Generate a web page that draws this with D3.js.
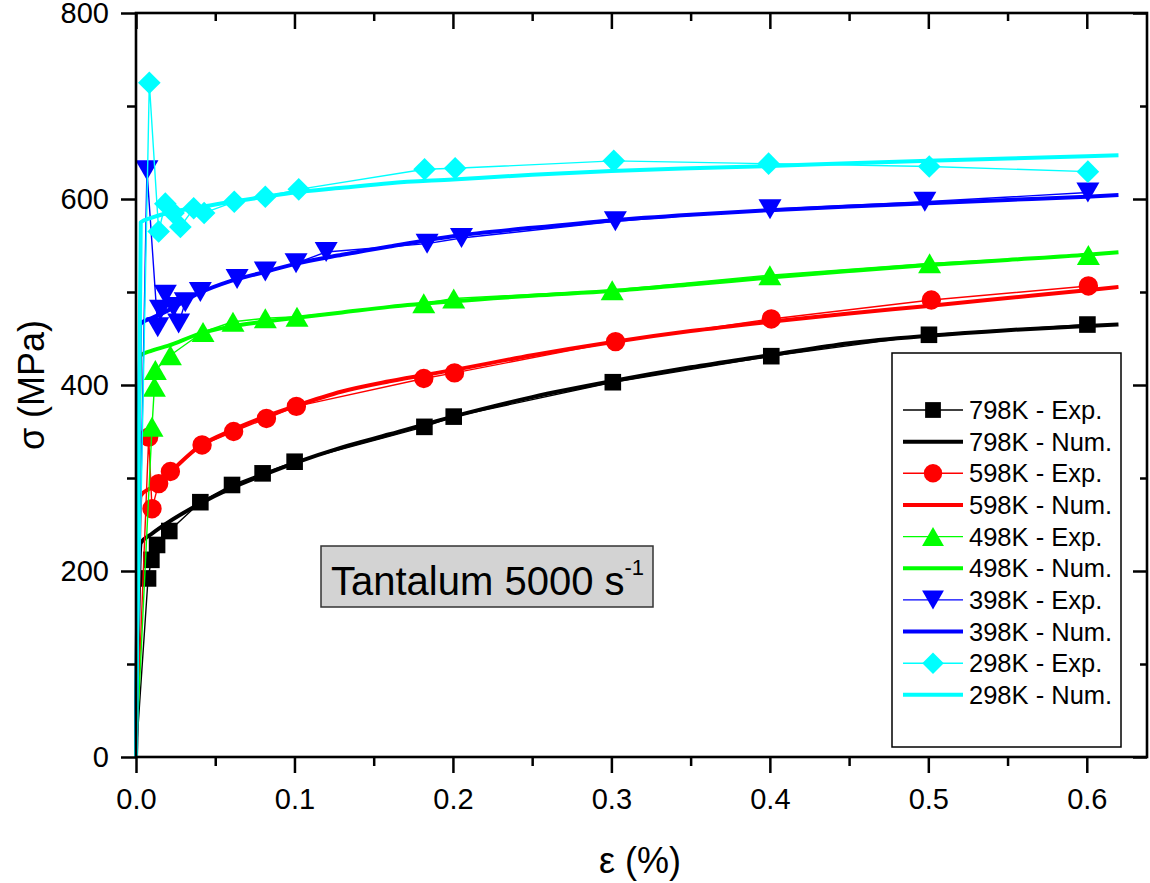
<!DOCTYPE html>
<html><head><meta charset="utf-8">
<script src="https://cdn.jsdelivr.net/npm/d3@7"></script>
<style>
body{margin:0;background:#fff;}
svg{display:block;font-family:"Liberation Sans",Arial,Helvetica,sans-serif;}
</style>
</head><body>
<svg id="chart" width="1150" height="883"></svg>
<script>
// ---------- data ----------
const seriesNames = ["798K", "598K", "498K", "398K", "298K"];
const seriesColors = ["#000000", "#ff0000", "#00ff00", "#0000ff", "#00ffff"];
const seriesShapes = ["square", "circle", "triangleUp", "triangleDown", "diamond"];

// Experimental data (strain %, stress MPa)
const exp798Strain = [0, 0.0076, 0.0097, 0.0133, 0.021, 0.0406, 0.0606, 0.0799, 0.1001, 0.182, 0.2005, 0.3009, 0.4009, 0.5004, 0.6004];
const exp798Stress = [0, 192, 212, 228, 243, 274, 292.5, 305, 317.5, 355, 366, 403, 431, 454, 465];

const exp598Strain = [0, 0.008, 0.0101, 0.0143, 0.0217, 0.0417, 0.0616, 0.0823, 0.1012, 0.1816, 0.201, 0.3026, 0.4009, 0.5019, 0.601];
const exp598Stress = [0, 344, 267, 294, 307, 335.5, 350, 364, 377, 407, 413, 446.6, 471, 491.4, 506.5];

const exp498Strain = [0, 0.0101, 0.0116, 0.0122, 0.0217, 0.0423, 0.0612, 0.0816, 0.1016, 0.1816, 0.2005, 0.3005, 0.4, 0.5008, 0.601];
const exp498Stress = [0, 355, 398, 416, 432, 457, 468, 471.7, 473.5, 487.8, 493, 502, 518, 530.8, 539.8];

const exp398Strain = [0, 0.0069, 0.0137, 0.0155, 0.0185, 0.0237, 0.0269, 0.0311, 0.0406, 0.0638, 0.0816, 0.101, 0.12, 0.1837, 0.2054, 0.3025, 0.4001, 0.4978, 0.6007];
const exp398Stress = [0, 631, 462, 481, 497, 484, 466, 489, 500, 514, 522, 531, 543, 552, 558, 576, 589, 597, 607];

const exp298Strain = [0, 0.0084, 0.0143, 0.0185, 0.0237, 0.028, 0.0364, 0.043, 0.062, 0.0816, 0.1027, 0.1821, 0.2014, 0.3015, 0.3992, 0.5006, 0.6007];
const exp298Stress = [0, 725, 565, 595, 585, 570, 590, 585, 597, 602.5, 610.4, 632, 633, 641, 638, 635, 629.4];

// Numerical curves (common strain grid)
const numStrain = [0, 0.003, 0.01, 0.02, 0.04, 0.06, 0.08, 0.1, 0.13, 0.16, 0.2, 0.25, 0.3, 0.35, 0.4, 0.45, 0.5, 0.55, 0.6, 0.62];
const num798Stress = [0, 230, 240, 252, 272, 289, 303, 316, 333, 347, 366, 387, 404, 419, 432, 445, 453, 459, 463.5, 465];
const num598Stress = [0, 281, 290, 304, 334, 351, 365, 377, 393, 404, 416, 432, 446, 458, 468, 477, 485, 493.5, 502, 505.5];
const num498Stress = [0, 432, 437, 442, 455, 463, 468, 472, 478, 484, 490, 496, 501, 508, 515.5, 522.5, 529, 534.5, 540, 542.7];
const num398Stress = [0, 466, 472, 480, 499, 512, 521, 530, 540, 549, 560, 569, 577, 583, 588, 592, 595.5, 599, 602.5, 604.3];
const num298Stress = [0, 575, 580, 585, 591, 597, 602, 607, 612, 617, 621, 626, 630, 633, 635.5, 638.5, 641, 643.5, 646, 647];

// Axes
const xTickValues = [0, 0.1, 0.2, 0.3, 0.4, 0.5, 0.6];
const xMinorValues = [0.05, 0.15, 0.25, 0.35, 0.45, 0.55];
const yTickValues = [0, 200, 400, 600, 800];
const yMinorValues = [100, 300, 500, 700];
const xDomain = [0, 0.638];
const yDomain = [0, 800];

const expStrains = [exp798Strain, exp598Strain, exp498Strain, exp398Strain, exp298Strain];
const expStresses = [exp798Stress, exp598Stress, exp498Stress, exp398Stress, exp298Stress];
const numStresses = [num798Stress, num598Stress, num498Stress, num398Stress, num298Stress];

// ---------- drawing ----------
const svg = d3.select("#chart");
const L = 136, R = 1147, T = 13, B = 757;
const x = d3.scaleLinear().domain(xDomain).range([L, R]);
const y = d3.scaleLinear().domain(yDomain).range([B, T]);

function shapePath(shape, s) {
  // s: scale factor (1 = plot size)
  const p = d3.path();
  if (shape === "square") {
    const h = 8.3 * s; p.rect(-h, -h, 2 * h, 2 * h);
  } else if (shape === "circle") {
    p.arc(0, 0, 9.7 * s, 0, 2 * Math.PI);
  } else if (shape === "triangleUp") {
    const w = 11.5 * s, h = 10 * s;
    p.moveTo(0, -h); p.lineTo(w, h); p.lineTo(-w, h); p.closePath();
  } else if (shape === "triangleDown") {
    const w = 11.5 * s, h = 10 * s;
    p.moveTo(0, h); p.lineTo(w, -h); p.lineTo(-w, -h); p.closePath();
  } else if (shape === "diamond") {
    const h = 11.3 * s;
    p.moveTo(0, -h); p.lineTo(h, 0); p.lineTo(0, h); p.lineTo(-h, 0); p.closePath();
  }
  return p.toString();
}

const line = d3.line().x(d => x(d[0])).y(d => y(d[1]));
const plot = svg.append("g");

seriesNames.forEach((name, i) => {
  const col = seriesColors[i];
  const expPts = expStrains[i].map((v, k) => [v, expStresses[i][k]]);
  plot.append("path").attr("d", line(expPts)).attr("fill", "none")
    .attr("stroke", col).attr("stroke-width", 1.4).attr("stroke-linejoin", "round");
  plot.selectAll(null).data(expPts.filter(d => d[1] > 0)).enter().append("path")
    .attr("d", shapePath(seriesShapes[i], 1))
    .attr("transform", d => `translate(${x(d[0])},${y(d[1])})`)
    .attr("fill", col);
  const numPts = numStrain.map((v, k) => [v, numStresses[i][k]]);
  plot.append("path").attr("d", d3.line().curve(d3.curveMonotoneX).x(d => x(d[0])).y(d => y(d[1]))(numPts))
    .attr("fill", "none").attr("stroke", col).attr("stroke-width", 4)
    .attr("stroke-linejoin", "round").attr("stroke-linecap", "butt");
});

// ---------- axes ----------
const tickFont = 29;
function styleAxis(g) {
  g.select(".domain").remove();
  g.selectAll("line").attr("stroke", "#000").attr("stroke-width", 2.5);
  g.selectAll("text").attr("font-size", tickFont).attr("fill", "#000")
   .attr("font-family", '"Liberation Sans",Arial,sans-serif');
}
// bottom
svg.append("g").attr("transform", `translate(0,${B})`)
  .call(d3.axisBottom(x).tickValues(xTickValues).tickFormat(d3.format(".1f")).tickSize(16).tickPadding(15).tickSizeOuter(0))
  .call(styleAxis);
svg.append("g").attr("transform", `translate(0,${B})`)
  .call(d3.axisBottom(x).tickValues(xMinorValues).tickFormat("").tickSize(9).tickSizeOuter(0))
  .call(styleAxis);
// top (inward)
svg.append("g").attr("transform", `translate(0,${T})`)
  .call(d3.axisTop(x).tickValues(xTickValues).tickFormat("").tickSize(-16).tickSizeOuter(0))
  .call(styleAxis);
svg.append("g").attr("transform", `translate(0,${T})`)
  .call(d3.axisTop(x).tickValues(xMinorValues).tickFormat("").tickSize(-8).tickSizeOuter(0))
  .call(styleAxis);
// left
svg.append("g").attr("transform", `translate(${L},0)`)
  .call(d3.axisLeft(y).tickValues(yTickValues).tickFormat(d3.format("d")).tickSize(15).tickPadding(12).tickSizeOuter(0))
  .call(styleAxis);
svg.append("g").attr("transform", `translate(${L},0)`)
  .call(d3.axisLeft(y).tickValues(yMinorValues).tickFormat("").tickSize(9).tickSizeOuter(0))
  .call(styleAxis);
// right (inward)
svg.append("g").attr("transform", `translate(${R},0)`)
  .call(d3.axisRight(y).tickValues(yTickValues).tickFormat("").tickSize(-14).tickSizeOuter(0))
  .call(styleAxis);
svg.append("g").attr("transform", `translate(${R},0)`)
  .call(d3.axisRight(y).tickValues(yMinorValues).tickFormat("").tickSize(-7).tickSizeOuter(0))
  .call(styleAxis);

// frame
svg.append("rect").attr("x", L).attr("y", T).attr("width", R - L).attr("height", B - T)
  .attr("fill", "none").attr("stroke", "#000").attr("stroke-width", 2.6);

// axis titles
svg.append("text").attr("transform", "translate(44,385) rotate(-90)")
  .attr("text-anchor", "middle").attr("font-size", 36).text("σ (MPa)");
svg.append("text").attr("x", 640).attr("y", 873)
  .attr("text-anchor", "middle").attr("font-size", 36).text("ε (%)");

// annotation box
svg.append("rect").attr("x", 321).attr("y", 546).attr("width", 332).attr("height", 61)
  .attr("fill", "#d3d3d3").attr("stroke", "#333").attr("stroke-width", 1.5);
const ann = svg.append("text").attr("x", 331).attr("y", 595).attr("font-size", 40).attr("fill", "#000");
ann.append("tspan").text("Tantalum 5000 s");
ann.append("tspan").attr("font-size", 22).attr("dy", -20).text("-1");

// legend
const lg = svg.append("g");
lg.append("rect").attr("x", 892).attr("y", 353).attr("width", 229).attr("height", 394)
  .attr("fill", "#fff").attr("stroke", "#000").attr("stroke-width", 1.5);
const rowY0 = 410, rowDy = 31.65;
seriesNames.forEach((name, i) => {
  const col = seriesColors[i];
  const ye = rowY0 + (2 * i) * rowDy, yn = rowY0 + (2 * i + 1) * rowDy;
  lg.append("line").attr("x1", 903).attr("x2", 963).attr("y1", ye).attr("y2", ye)
    .attr("stroke", col).attr("stroke-width", 1.4);
  lg.append("path").attr("d", shapePath(seriesShapes[i], 0.95))
    .attr("transform", `translate(933,${ye})`).attr("fill", col);
  lg.append("text").attr("x", 969).attr("y", ye + 9).attr("font-size", 25.5).text(name + " - Exp.");
  lg.append("line").attr("x1", 903).attr("x2", 963).attr("y1", yn).attr("y2", yn)
    .attr("stroke", col).attr("stroke-width", 4);
  lg.append("text").attr("x", 969).attr("y", yn + 9).attr("font-size", 25.5).text(name + " - Num.");
});
</script>
</body></html>
